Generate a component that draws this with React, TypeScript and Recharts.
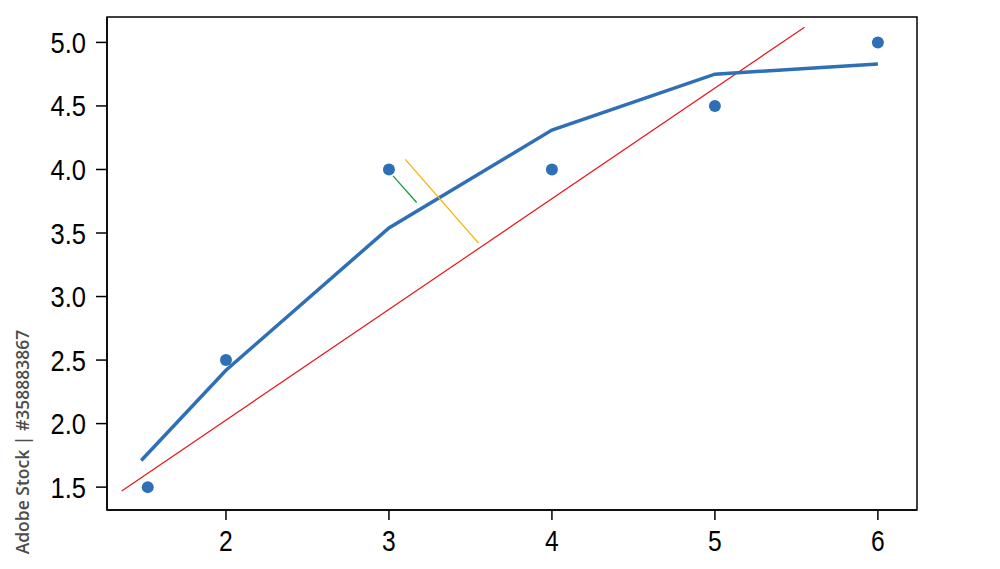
import React from 'react';
import {
  ComposedChart, Line, Scatter, XAxis, YAxis, ReferenceArea,
} from 'recharts';

const points = [
  { x: 1.52, y: 1.5 },
  { x: 2, y: 2.5 },
  { x: 3, y: 4.0 },
  { x: 4, y: 4.0 },
  { x: 5, y: 4.5 },
  { x: 6, y: 5.0 },
];

const curve = [
  { x: 1.48, y: 1.71 },
  { x: 2, y: 2.42 },
  { x: 3, y: 3.54 },
  { x: 4, y: 4.31 },
  { x: 5, y: 4.75 },
  { x: 6, y: 4.83 },
];

const fitLine = [
  { x: 1.36, y: 1.47 },
  { x: 5.55, y: 5.12 },
];

const greenSeg = [
  { x: 3.025, y: 3.95 },
  { x: 3.17, y: 3.74 },
];

const orangeSeg = [
  { x: 3.1, y: 4.08 },
  { x: 3.55, y: 3.42 },
];

const xTicks = [2, 3, 4, 5, 6];
const yTicks = [1.5, 2.0, 2.5, 3.0, 3.5, 4.0, 4.5, 5.0];

const X_DOMAIN: [number, number] = [1.27, 6.24];
const Y_DOMAIN: [number, number] = [1.32, 5.2];

const FONT = '"Liberation Sans", Arial, sans-serif';

// condensed look: squeeze a regular sans horizontally
const XTick = (props: any) => {
  const { x, y, payload } = props;
  return (
    <g transform={`translate(${x},${y})`}>
      <text transform="scale(0.85,1)" textAnchor="middle" y={21} fontSize={29} fontFamily={FONT} fill="#000">
        {payload.value}
      </text>
    </g>
  );
};

const YTick = (props: any) => {
  const { x, y, payload } = props;
  return (
    <g transform={`translate(${x},${y})`}>
      <text transform="scale(0.85,1)" textAnchor="end" y={10.5} fontSize={30} fontFamily={FONT} fill="#000">
        {Number(payload.value).toFixed(1)}
      </text>
    </g>
  );
};

const App: React.FC = () => {
  return (
    <div style={{ position: 'absolute', left: 0, top: 0, width: 1000, height: 569, background: '#fff' }}>
      <ComposedChart width={1000} height={569} margin={{ top: 17, right: 83, bottom: 0, left: 0 }}>
        <XAxis
          type="number"
          dataKey="x"
          domain={X_DOMAIN}
          allowDataOverflow
          ticks={xTicks}
          axisLine={{ stroke: '#000', strokeWidth: 1.5 }}
          tickLine={{ stroke: '#000', strokeWidth: 1.5 }}
          tickSize={10}
          tickMargin={10}
          height={59}
          tick={<XTick />}
        />
        <YAxis
          type="number"
          domain={Y_DOMAIN}
          allowDataOverflow
          ticks={yTicks}
          axisLine={{ stroke: '#000', strokeWidth: 1.5 }}
          tickLine={{ stroke: '#000', strokeWidth: 1.5 }}
          tickSize={11}
          tickMargin={10}
          width={107}
          tick={<YTick />}
        />
        <ReferenceArea
          x1={X_DOMAIN[0]}
          x2={X_DOMAIN[1]}
          y1={Y_DOMAIN[0]}
          y2={Y_DOMAIN[1]}
          fill="none"
          stroke="#000"
          strokeWidth={1.5}
          ifOverflow="visible"
        />
        <Line data={fitLine} dataKey="y" stroke="#e8151b" strokeWidth={1.2} dot={false} isAnimationActive={false} />
        <Line data={curve} dataKey="y" type="linear" stroke="#2e6fb6" strokeWidth={3.5} dot={false} isAnimationActive={false} />
        <Line data={greenSeg} dataKey="y" stroke="#1f9a3c" strokeWidth={1.3} dot={false} isAnimationActive={false} />
        <Line data={orangeSeg} dataKey="y" stroke="#f6b400" strokeWidth={1.3} dot={false} isAnimationActive={false} />
        <Scatter data={points} dataKey="y" fill="#2e6fb6" isAnimationActive={false}
          shape={(p: any) => <circle cx={p.cx} cy={p.cy} r={6} fill="#2e6fb6" />} />
      </ComposedChart>
      <div
        style={{
          position: 'absolute',
          left: 22,
          top: 442,
          transform: 'translate(-50%, -50%) rotate(-90deg)',
          whiteSpace: 'nowrap',
          color: '#4d4d4d',
          fontSize: 17.5,
          fontWeight: 600,
          fontFamily: '"Open Sans", "DejaVu Sans", sans-serif',
        }}
      >
        Adobe Stock | #358883867
      </div>
    </div>
  );
};

export default App;
